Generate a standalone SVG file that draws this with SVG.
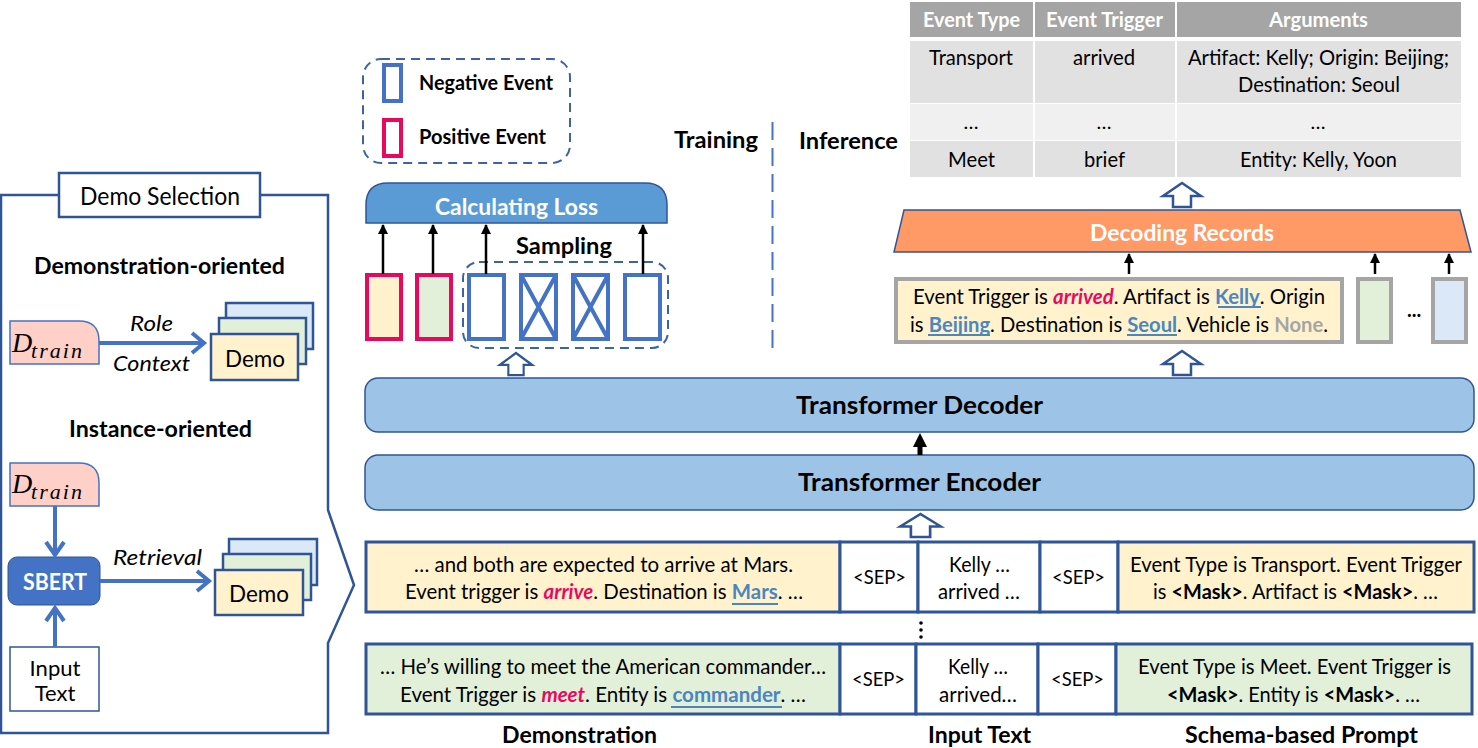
<svg xmlns="http://www.w3.org/2000/svg" width="1478" height="748" viewBox="0 0 1478 748">
<defs>
<style>
text{font-family:"Lato","Carlito","Open Sans",sans-serif;fill:#000;font-size:22px}
.s{font-size:21px}
.h{font-size:20px}
.lg{font-size:24px}
.xl{font-size:25px}
.b{font-weight:700}
.i{font-style:italic}
.w{fill:#fff}
.m{font-family:"Liberation Serif",serif;font-style:italic}
.D{font-size:28px}
.pos{fill:#e8095f;font-weight:700;font-style:italic}
.arg{fill:#4a86c0;font-weight:700}
.none{fill:#a5a5a5;font-weight:700}
.navy{stroke:#2f5597;stroke-width:2.5;fill:#fff}
.navy2{stroke:#2f5597;stroke-width:3;fill:#fff}
.dash{fill:none;stroke:#3b64a8;stroke-width:2;stroke-dasharray:9 6}
.negbox{fill:#fff;stroke:#4472c4;stroke-width:4}
.posbox{stroke:#e8095f;stroke-width:4}
.gray{stroke:#a5a5a5;stroke-width:4}
.yellow{fill:#fff2cc}.green{fill:#e2f0d9}.lblue{fill:#dae8f7}.pink{fill:#ffd0c8}
.flow{fill:none;stroke:#4472c4;stroke-width:4}
.blk{stroke:#000;stroke-width:2.5;fill:none;marker-end:url(#ah)}
.hollow{fill:#fff;stroke:#2f5597;stroke-width:2.5;stroke-linejoin:miter}
.ul{stroke:#4a86c0;stroke-width:2}
.bar{fill:#9dc3e6;stroke:#2f5597;stroke-width:1.5}
.hd{fill:#a5a5a5}.r1{fill:#e1e1e1}.r2{fill:#f0f0f0}
</style>
<marker id="ah" markerUnits="userSpaceOnUse" markerWidth="12" markerHeight="12" refX="9" refY="5" orient="auto"><path d="M0 0L10 5L0 10Z" fill="#000"/></marker>
<path id="up" d="M0 0L19 13H9V24H-9V13H-19Z"/>
</defs>

<g id="demo-selection">
<path class="navy" style="fill:none" d="M1 195V733H328V643L354 585L328 510V195Z"/>
<rect class="navy" x="59" y="173" width="201" height="44"/>
<text class="xl" x="80" y="205" textLength="160" lengthAdjust="spacingAndGlyphs">Demo Selection</text>
<text class="b" x="34" y="274" textLength="251" lengthAdjust="spacingAndGlyphs">Demonstration-oriented</text>
<text class="b" x="69" y="437" textLength="183" lengthAdjust="spacingAndGlyphs">Instance-oriented</text>
</g>

<g id="dtrain-1">
<path class="pink" stroke="#4472c4" stroke-width="1.5" d="M10 321H79Q99 321 99 341V364H10Z"/>
<text class="m D" x="12" y="352">D</text>
<text class="m" x="31" y="358" textLength="51" lengthAdjust="spacing">train</text>
</g>
<g id="demo-stack-1">
<rect class="navy lblue" x="226" y="303" width="87" height="46"/>
<rect class="navy green" x="219" y="318" width="87" height="46"/>
<rect class="navy yellow" x="211" y="334" width="87" height="46"/>
<text class="lg" x="225" y="367" textLength="60" lengthAdjust="spacingAndGlyphs">Demo</text>
</g>
<g id="dtrain-2">
<path class="pink" stroke="#4472c4" stroke-width="1.5" d="M10 463H79Q99 463 99 483V506H10Z"/>
<text class="m D" x="12" y="493">D</text>
<text class="m" x="31" y="499" textLength="51" lengthAdjust="spacing">train</text>
</g>
<g id="sbert">
<rect x="8" y="557" width="92" height="48" rx="9" fill="#4472c4" stroke="#2f5597" stroke-width="1"/>
<text class="b w" x="23" y="590" textLength="64" lengthAdjust="spacingAndGlyphs">SBERT</text>
</g>
<g id="input-text-box">
<rect x="10" y="647" width="89" height="64" fill="#fff" stroke="#2f5597" stroke-width="1.5"/>
<text x="55" y="676" text-anchor="middle">Input</text>
<text x="55" y="701" text-anchor="middle">Text</text>
</g>
<g id="demo-stack-2">
<rect class="navy lblue" x="229" y="539" width="88" height="46"/>
<rect class="navy green" x="223" y="554" width="88" height="46"/>
<rect class="navy yellow" x="215" y="570" width="88" height="45"/>
<text class="lg" x="229" y="602" textLength="60" lengthAdjust="spacingAndGlyphs">Demo</text>
</g>

<g id="legend">
<rect class="dash" x="363" y="59" width="207" height="104" rx="18"/>
<rect class="negbox" style="fill:none" x="384" y="65" width="17" height="36"/>
<rect class="posbox" fill="none" x="384" y="120" width="17" height="36"/>
<text class="b h" x="419" y="90" textLength="134" lengthAdjust="spacingAndGlyphs">Negative Event</text>
<text class="b h" x="419" y="144" textLength="127" lengthAdjust="spacingAndGlyphs">Positive Event</text>
</g>

<g id="calculating-loss">
<path fill="#5b9bd5" stroke="#2f5597" stroke-width="1.5" d="M366 223V205Q366 183 388 183H645Q667 183 667 205V223Z"/>
<text class="b w" x="435" y="215" textLength="163" lengthAdjust="spacingAndGlyphs">Calculating Loss</text>
</g>

<g id="sampling">
<rect class="posbox yellow" x="367" y="275" width="34" height="64"/>
<rect class="posbox green" x="417" y="275" width="34" height="64"/>
<rect class="dash" x="463" y="262" width="205" height="86" rx="16"/>
<rect class="negbox" x="469" y="275" width="35" height="64"/>
<g class="negbox"><rect x="521" y="275" width="35" height="64"/><path d="M521 275L556 339M556 275L521 339"/></g>
<g class="negbox"><rect x="573" y="275" width="35" height="64"/><path d="M573 275L608 339M608 275L573 339"/></g>
<rect class="negbox" x="625" y="275" width="35" height="64"/>
<text class="b" x="516" y="254" textLength="96" lengthAdjust="spacingAndGlyphs">Sampling</text>
</g>

<g id="training-inference">
<text class="b" x="674" y="148" textLength="84" lengthAdjust="spacingAndGlyphs">Training</text>
<text class="b" x="799" y="149" textLength="99" lengthAdjust="spacingAndGlyphs">Inference</text>
</g>

<g id="event-table">
<rect class="hd" x="910" y="2" width="123" height="35"/><rect class="hd" x="1035" y="2" width="140" height="35"/><rect class="hd" x="1177" y="2" width="284" height="35"/>
<rect class="r1" x="910" y="41" width="123" height="62"/><rect class="r1" x="1035" y="41" width="140" height="62"/><rect class="r1" x="1177" y="41" width="284" height="62"/>
<rect class="r2" x="910" y="104" width="123" height="36"/><rect class="r2" x="1035" y="104" width="140" height="36"/><rect class="r2" x="1177" y="104" width="284" height="36"/>
<rect class="r1" x="910" y="141" width="123" height="36"/><rect class="r1" x="1035" y="141" width="140" height="36"/><rect class="r1" x="1177" y="141" width="284" height="36"/>
<text class="b w h" x="923" y="27" textLength="97" lengthAdjust="spacingAndGlyphs">Event Type</text>
<text class="b w h" x="1046" y="27" textLength="117" lengthAdjust="spacingAndGlyphs">Event Trigger</text>
<text class="b w h" x="1269" y="27" textLength="99" lengthAdjust="spacingAndGlyphs">Arguments</text>
<text class="s" x="929" y="65" textLength="84" lengthAdjust="spacingAndGlyphs">Transport</text>
<text class="s" x="1073" y="65" textLength="62" lengthAdjust="spacingAndGlyphs">arrived</text>
<text class="s" x="1188" y="65" textLength="261" lengthAdjust="spacingAndGlyphs">Artifact: Kelly; Origin: Beijing;</text>
<text class="s" x="1238" y="92" textLength="162" lengthAdjust="spacingAndGlyphs">Destination: Seoul</text>
<text class="h" x="971" y="129" text-anchor="middle">…</text>
<text class="h" x="1104" y="129" text-anchor="middle">…</text>
<text class="h" x="1318" y="129" text-anchor="middle">…</text>
<text class="s" x="948" y="167" textLength="47" lengthAdjust="spacingAndGlyphs">Meet</text>
<text class="s" x="1084" y="167" textLength="41" lengthAdjust="spacingAndGlyphs">brief</text>
<text class="s" x="1240" y="167" textLength="157" lengthAdjust="spacingAndGlyphs">Entity: Kelly, Yoon</text>
</g>

<g id="decoding-records">
<path fill="#ff9966" stroke="#2f5597" stroke-width="1.5" d="M904 210H1460L1471 252H894Z"/>
<text class="b w" x="1090" y="241" textLength="184" lengthAdjust="spacingAndGlyphs">Decoding Records</text>
</g>

<g id="record-box">
<rect class="gray yellow" x="896" y="279" width="446" height="63"/>
<text class="s" x="913" y="304" textLength="412" lengthAdjust="spacingAndGlyphs">Event Trigger is <tspan class="pos">arrived</tspan>. Artifact is <tspan class="arg">Kelly</tspan>. Origin</text>
<text class="s" x="910" y="332" textLength="418" lengthAdjust="spacingAndGlyphs">is <tspan class="arg">Beijing</tspan>. Destination is <tspan class="arg">Seoul</tspan>. Vehicle is <tspan class="none">None</tspan>.</text>
<path class="ul" d="M1218 307H1261M928 335H990M1127 335H1177"/>
</g>
<g id="record-green"><rect class="gray green" x="1358" y="279" width="33" height="63"/></g>
<text x="1414" y="317" text-anchor="middle" class="b h">...</text>
<g id="record-blue"><rect class="gray lblue" x="1433" y="279" width="33" height="63"/></g>

<g id="decoder">
<rect class="bar" x="365" y="378" width="1109" height="54" rx="13"/>
<text class="b lg" x="796" y="414" textLength="247" lengthAdjust="spacingAndGlyphs">Transformer Decoder</text>
</g>
<g id="encoder">
<rect class="bar" x="365" y="455" width="1109" height="55" rx="13"/>
<text class="b lg" x="798" y="491" textLength="243" lengthAdjust="spacingAndGlyphs">Transformer Encoder</text>
</g>

<g id="row-1">
<rect class="navy2 yellow" x="366" y="542" width="474" height="70"/>
<rect class="navy2" x="840" y="542" width="78" height="70"/>
<rect class="navy2" x="918" y="542" width="122" height="70"/>
<rect class="navy2" x="1040" y="542" width="78" height="70"/>
<rect class="navy2 yellow" x="1118" y="542" width="356" height="70"/>
<text class="s" x="414" y="572" textLength="379" lengthAdjust="spacingAndGlyphs">… and both are expected to arrive at Mars.</text>
<text class="s" x="405" y="599" textLength="398" lengthAdjust="spacingAndGlyphs">Event trigger is <tspan class="pos">arrive</tspan>. Destination is <tspan class="arg">Mars</tspan>. …</text>
<path class="ul" d="M732 604H778"/>
<text class="h" x="853" y="584" textLength="53" lengthAdjust="spacingAndGlyphs">&lt;SEP&gt;</text>
<text class="s" x="949" y="572" textLength="61" lengthAdjust="spacingAndGlyphs">Kelly …</text>
<text class="s" x="938" y="599" textLength="82" lengthAdjust="spacingAndGlyphs">arrived …</text>
<text class="h" x="1052" y="584" textLength="53" lengthAdjust="spacingAndGlyphs">&lt;SEP&gt;</text>
<text class="s" x="1130" y="572" textLength="332" lengthAdjust="spacingAndGlyphs">Event Type is Transport. Event Trigger</text>
<text class="s" x="1153" y="599" textLength="285" lengthAdjust="spacingAndGlyphs">is <tspan class="b">&lt;Mask&gt;</tspan>. Artifact is <tspan class="b">&lt;Mask&gt;</tspan>. …</text>
</g>

<g id="row-dots" fill="#000"><circle cx="921" cy="623" r="1.8"/><circle cx="921" cy="630" r="1.8"/><circle cx="921" cy="637" r="1.8"/></g>

<g id="row-2">
<rect class="navy2 green" x="366" y="644" width="474" height="70"/>
<rect class="navy2" x="840" y="644" width="76" height="70"/>
<rect class="navy2" x="916" y="644" width="122" height="70"/>
<rect class="navy2" x="1038" y="644" width="78" height="70"/>
<rect class="navy2 green" x="1116" y="644" width="356" height="70"/>
<text class="s" x="380" y="674" textLength="446" lengthAdjust="spacingAndGlyphs">… He’s willing to meet the American commander…</text>
<text class="s" x="400" y="702" textLength="406" lengthAdjust="spacingAndGlyphs">Event Trigger is <tspan class="pos">meet</tspan>. Entity is <tspan class="arg">commander</tspan>. …</text>
<path class="ul" d="M671 707H782"/>
<text class="h" x="852" y="686" textLength="53" lengthAdjust="spacingAndGlyphs">&lt;SEP&gt;</text>
<text class="s" x="948" y="674" textLength="60" lengthAdjust="spacingAndGlyphs">Kelly …</text>
<text class="s" x="939" y="702" textLength="78" lengthAdjust="spacingAndGlyphs">arrived…</text>
<text class="h" x="1051" y="686" textLength="53" lengthAdjust="spacingAndGlyphs">&lt;SEP&gt;</text>
<text class="s" x="1138" y="674" textLength="313" lengthAdjust="spacingAndGlyphs">Event Type is Meet. Event Trigger is</text>
<text class="s" x="1167" y="702" textLength="253" lengthAdjust="spacingAndGlyphs"><tspan class="b">&lt;Mask&gt;</tspan>. Entity is <tspan class="b">&lt;Mask&gt;</tspan>. …</text>
</g>

<g id="column-labels">
<text class="b" x="502" y="743" textLength="155" lengthAdjust="spacingAndGlyphs">Demonstration</text>
<text class="b" x="928" y="743" textLength="103" lengthAdjust="spacingAndGlyphs">Input Text</text>
<text class="b" x="1185" y="743" textLength="233" lengthAdjust="spacingAndGlyphs">Schema-based Prompt</text>
</g>

<g id="connectors">
<path class="flow" d="M99 343H203M192 333L204 343L192 353"/>
<path class="flow" d="M55 506V554M46 542L55 555L64 542"/>
<path class="flow" d="M55 647V609M46 621L55 608L64 621"/>
<path class="flow" d="M100 581H208M197 571L209 581L197 591"/>
<path class="blk" d="M383 274V225"/>
<path class="blk" d="M433 274V225"/>
<path class="blk" d="M486 274V225"/>
<path class="blk" d="M643 274V225"/>
<path class="blk" d="M1129 274V254"/>
<path class="blk" d="M1375 274V254"/>
<path class="blk" d="M1449 274V254"/>
<path d="M920 455V445" stroke="#000" stroke-width="5" fill="none"/>
<path d="M920 433L927 447H913Z" fill="#000"/>
<use href="#up" class="hollow" transform="translate(516 353)scale(.85 .92)"/>
<use href="#up" class="hollow" transform="translate(920.500 514)scale(1.07 .96)"/>
<use href="#up" class="hollow" transform="translate(1182 351)"/>
<use href="#up" class="hollow" transform="translate(1182 183)"/>
<path d="M772.500 122V348" fill="none" stroke="#4472c4" stroke-width="2" stroke-dasharray="18 8"/>
</g>

<g id="edge-labels">
<text class="i" x="130" y="331" textLength="43" lengthAdjust="spacingAndGlyphs">Role</text>
<text class="i" x="113" y="371" textLength="77" lengthAdjust="spacingAndGlyphs">Context</text>
<text class="i" x="113" y="565" textLength="89" lengthAdjust="spacingAndGlyphs">Retrieval</text>
</g>
</svg>
